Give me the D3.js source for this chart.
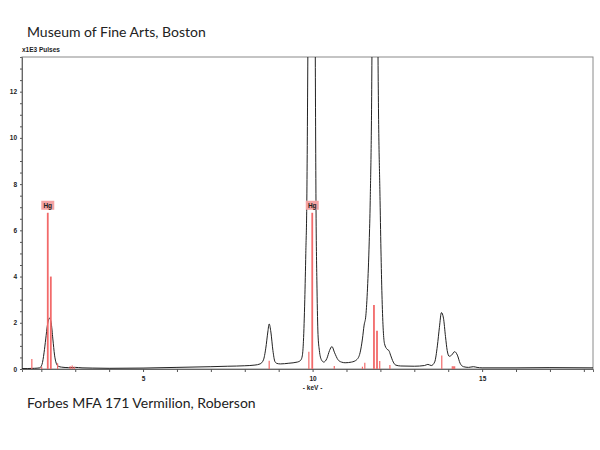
<!DOCTYPE html>
<html><head><meta charset="utf-8">
<script src="https://cdn.jsdelivr.net/npm/d3@7/dist/d3.min.js"></script>
<style>body{margin:0;background:#fff}svg{display:block}</style>
</head><body>
<svg id="c" width="600" height="450"></svg>
<script>
const title = "Museum of Fine Arts, Boston";
const caption = "Forbes MFA 171 Vermilion, Roberson";
const yUnitLabel = "x1E3 Pulses";
const xUnitLabel = "- keV -";
const xTickLabels = [5, 10, 15];
const yTickLabels = [0, 2, 4, 6, 8, 10, 12];

// spectrum: energy (keV) and counts (x1E3 pulses)
const spectrumKeV = [1.43,1.6,1.8,1.95,2.02,2.08,2.13,2.18,2.24,2.29,2.34,2.39,2.44,2.5,2.6,2.8,3.0,3.2,3.5,4.0,5.0,6.0,7.0,7.5,8.0,8.3,8.45,8.55,8.62,8.68,8.72,8.77,8.83,8.89,8.95,9.05,9.3,9.55,9.65,9.7,9.73,9.77,9.8,9.83,9.86,10.0,10.08,10.1,10.13,10.16,10.2,10.26,10.33,10.42,10.5,10.57,10.65,10.75,10.85,10.96,11.15,11.3,11.4,11.47,11.52,11.57,11.62,11.67,11.7,11.75,11.84,11.93,11.99,12.05,12.12,12.2,12.25,12.3,12.38,12.45,12.6,13.0,13.3,13.4,13.5,13.6,13.68,13.74,13.8,13.86,13.92,13.97,14.03,14.1,14.19,14.27,14.35,14.45,14.6,14.74,14.85,15.0,16.0,17.0,18.3];
const spectrumCounts = [0.02,0.02,0.03,0.05,0.2,0.7,1.3,1.9,2.2,2.0,1.3,0.6,0.25,0.12,0.08,0.06,0.07,0.05,0.04,0.03,0.04,0.07,0.1,0.12,0.14,0.17,0.22,0.39,0.9,1.6,1.95,1.6,0.8,0.32,0.24,0.22,0.25,0.3,0.38,0.6,1.2,3.0,5.0,7.3,13.5,60,13.5,7.3,3.5,1.5,0.8,0.4,0.3,0.45,0.8,0.97,0.7,0.4,0.3,0.27,0.3,0.4,0.7,1.3,1.9,2.3,3.5,5.5,7.3,13.5,60,13.5,7.3,3.0,1.1,0.85,0.8,0.6,0.3,0.17,0.13,0.12,0.15,0.2,0.15,0.3,1.0,1.8,2.44,2.2,1.4,0.8,0.55,0.6,0.75,0.6,0.25,0.1,0.07,0.1,0.07,0.05,0.05,0.06,0.05];

// Hg reference lines
const markerKeV = [1.72,2.01,2.19,2.28,2.48,2.85,2.91,2.97,8.72,9.89,9.99,10.64,11.47,11.54,11.81,11.90,11.98,12.28,13.81,14.12,14.15,14.19];
const markerHeight = [0.43,0.1,6.76,4.0,0.25,0.12,0.15,0.1,0.36,0.75,6.76,0.13,0.1,0.27,2.77,1.65,0.35,0.17,0.58,0.12,0.12,0.12];
const labelKeV = [2.19, 9.99];
const labelText = ["Hg", "Hg"];
const labelHeight = [6.76, 6.76];

const svg = d3.select("#c");
const L = 22, T = 57, R = 593, B = 369;
const x = d3.scaleLinear().domain([1.43, 18.27]).range([L, R]);
const y = d3.scaleLinear().domain([0, 13.5]).range([B, T]);

svg.append("defs").append("clipPath").attr("id","clip")
  .append("rect").attr("x",L).attr("y",T).attr("width",R-L).attr("height",B-T);

// frame
svg.append("rect").attr("x",L).attr("y",T).attr("width",R-L).attr("height",B-T)
  .attr("fill","none").attr("stroke","#8a8a8a").attr("stroke-width",1);

// axes
const xMinor = d3.range(2, 19);
const xAxis = d3.axisBottom(x).tickValues(xMinor).tickSize(3)
  .tickFormat(d => xTickLabels.includes(d) ? d : "");
const gx = svg.append("g").attr("transform",`translate(0,${B})`).call(xAxis);
gx.select(".domain").attr("stroke","#666");
gx.selectAll(".tick line").attr("stroke","#555");
gx.selectAll("text").attr("font-family","Liberation Sans, Arial").attr("font-size",6.5)
  .attr("font-weight","bold").attr("fill","#222").attr("dy","0.9em");

const yMinor = d3.range(0, 13.5, 0.5);
const yAxis = d3.axisLeft(y).tickValues(yMinor).tickSize(2)
  .tickFormat(d => yTickLabels.includes(d) ? d : "");
const gy = svg.append("g").attr("transform",`translate(${L},0)`).call(yAxis);
gy.select(".domain").attr("stroke","#666");
gy.selectAll(".tick line").attr("stroke","#555");
gy.selectAll("text").attr("font-family","Liberation Sans, Arial").attr("font-size",6.5)
  .attr("font-weight","bold").attr("fill","#222").attr("x",-5);

// spectrum
const pts = spectrumKeV.map((k,i)=>[k, spectrumCounts[i]]);
const line = d3.line().x(d=>x(d[0])).y(d=>y(d[1])).curve(d3.curveMonotoneX);
svg.append("path").attr("clip-path","url(#clip)").attr("d", line(pts))
  .attr("fill","none").attr("stroke","#222").attr("stroke-width",1);

// markers
svg.append("g").attr("clip-path","url(#clip)").selectAll("line").data(markerKeV).join("line")
  .attr("x1",d=>x(d)).attr("x2",d=>x(d)).attr("y1",y(0))
  .attr("y2",(d,i)=>y(markerHeight[i]))
  .attr("stroke","#f26a6a").attr("stroke-width",(d,i)=>markerHeight[i]>1?1.8:1.2);

// labels
labelKeV.forEach((k,i)=>{
  const cx = x(k), ty = y(labelHeight[i]) - 3;
  svg.append("rect").attr("x",cx-6.5).attr("y",ty-9).attr("width",13).attr("height",9)
    .attr("fill","#f4a3a3");
  svg.append("text").attr("x",cx).attr("y",ty-2).attr("text-anchor","middle")
    .attr("font-family","Liberation Sans, Arial").attr("font-size",6.5).attr("font-weight","bold")
    .attr("fill","#222").text(labelText[i]);
});

// texts
svg.append("text").attr("x",22).attr("y",52).attr("font-family","Liberation Sans, Arial")
  .attr("font-size",6.5).attr("font-weight","bold").attr("fill","#222").text(yUnitLabel);
svg.append("text").attr("x",x(10)).attr("y",390).attr("text-anchor","middle")
  .attr("font-family","Liberation Sans, Arial").attr("font-size",6.5).attr("font-weight","bold")
  .attr("fill","#222").text(xUnitLabel);
svg.append("text").attr("x",27).attr("y",37).attr("font-family","Lato, Open Sans, sans-serif")
  .attr("font-size",14).attr("fill","#222").text(title);
svg.append("text").attr("x",27).attr("y",408).attr("font-family","Lato, Open Sans, sans-serif")
  .attr("font-size",14).attr("fill","#222").text(caption);
</script>
</body></html>
